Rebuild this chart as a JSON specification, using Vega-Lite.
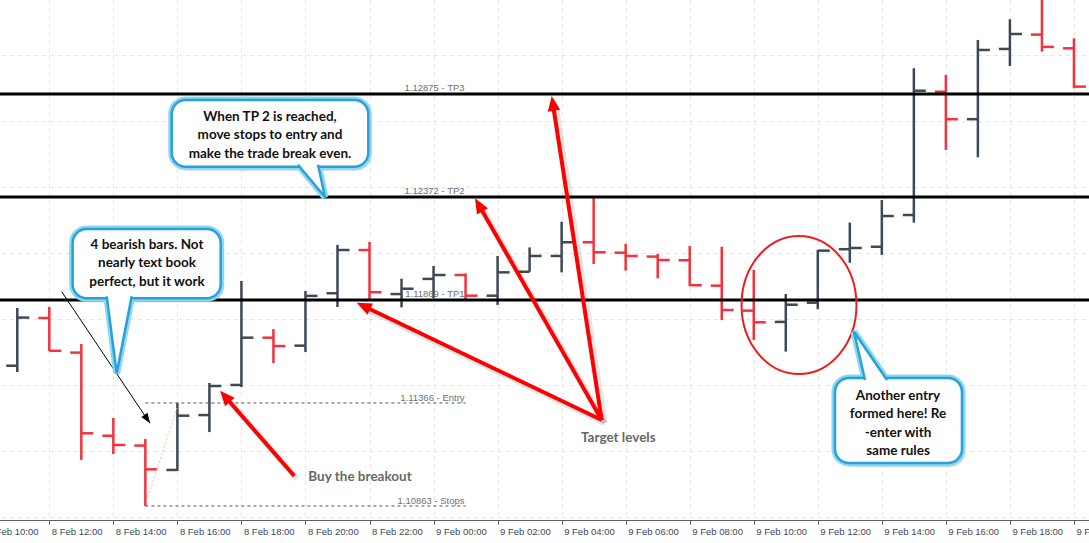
{
  "$schema": "https://vega.github.io/schema/vega-lite/v6.json",
  "width": 1089,
  "height": 520,
  "autosize": "none",
  "padding": {"left": 0, "top": 0, "right": 0, "bottom": 23},
  "background": "white",
  "config": {"view": {"stroke": null}},
  "datasets": {
    "bars": [
      {"t": "2016-02-08T11:00:00Z", "o": 1.11548, "h": 1.11830, "l": 1.11517, "c": 1.11783},
      {"t": "2016-02-08T12:00:00Z", "o": 1.11781, "h": 1.11835, "l": 1.11620, "c": 1.11621},
      {"t": "2016-02-08T13:00:00Z", "o": 1.11612, "h": 1.11654, "l": 1.11088, "c": 1.11218},
      {"t": "2016-02-08T14:00:00Z", "o": 1.11206, "h": 1.11293, "l": 1.11117, "c": 1.11161},
      {"t": "2016-02-08T15:00:00Z", "o": 1.11158, "h": 1.11190, "l": 1.10863, "c": 1.11042},
      {"t": "2016-02-08T16:00:00Z", "o": 1.11039, "h": 1.11366, "l": 1.11034, "c": 1.11304},
      {"t": "2016-02-08T17:00:00Z", "o": 1.11307, "h": 1.11464, "l": 1.11224, "c": 1.11449},
      {"t": "2016-02-08T18:00:00Z", "o": 1.11454, "h": 1.11962, "l": 1.11444, "c": 1.11685},
      {"t": "2016-02-08T19:00:00Z", "o": 1.11685, "h": 1.11727, "l": 1.11561, "c": 1.11644},
      {"t": "2016-02-08T20:00:00Z", "o": 1.11646, "h": 1.11913, "l": 1.11615, "c": 1.11889},
      {"t": "2016-02-08T21:00:00Z", "o": 1.11902, "h": 1.12138, "l": 1.11835, "c": 1.12113},
      {"t": "2016-02-08T22:00:00Z", "o": 1.12113, "h": 1.12152, "l": 1.11869, "c": 1.11907},
      {"t": "2016-02-08T23:00:00Z", "o": 1.11898, "h": 1.11973, "l": 1.11833, "c": 1.11924},
      {"t": "2016-02-09T00:00:00Z", "o": 1.11972, "h": 1.12035, "l": 1.11877, "c": 1.11991},
      {"t": "2016-02-09T01:00:00Z", "o": 1.11991, "h": 1.11999, "l": 1.11869, "c": 1.11890},
      {"t": "2016-02-09T02:00:00Z", "o": 1.11890, "h": 1.12084, "l": 1.11845, "c": 1.12004},
      {"t": "2016-02-09T03:00:00Z", "o": 1.12007, "h": 1.12126, "l": 1.12007, "c": 1.12084},
      {"t": "2016-02-09T04:00:00Z", "o": 1.12084, "h": 1.12251, "l": 1.12004, "c": 1.12151},
      {"t": "2016-02-09T05:00:00Z", "o": 1.12151, "h": 1.12371, "l": 1.12045, "c": 1.12102},
      {"t": "2016-02-09T06:00:00Z", "o": 1.12100, "h": 1.12143, "l": 1.12012, "c": 1.12084},
      {"t": "2016-02-09T07:00:00Z", "o": 1.12081, "h": 1.12094, "l": 1.11975, "c": 1.12064},
      {"t": "2016-02-09T08:00:00Z", "o": 1.12063, "h": 1.12133, "l": 1.11937, "c": 1.11941},
      {"t": "2016-02-09T09:00:00Z", "o": 1.11939, "h": 1.12129, "l": 1.11771, "c": 1.11820},
      {"t": "2016-02-09T10:00:00Z", "o": 1.11817, "h": 1.12016, "l": 1.11674, "c": 1.11760},
      {"t": "2016-02-09T11:00:00Z", "o": 1.11762, "h": 1.11898, "l": 1.11617, "c": 1.11846},
      {"t": "2016-02-09T12:00:00Z", "o": 1.11856, "h": 1.12113, "l": 1.11824, "c": 1.12110},
      {"t": "2016-02-09T13:00:00Z", "o": 1.12117, "h": 1.12247, "l": 1.12051, "c": 1.12123},
      {"t": "2016-02-09T14:00:00Z", "o": 1.12129, "h": 1.12357, "l": 1.12089, "c": 1.12279},
      {"t": "2016-02-09T15:00:00Z", "o": 1.12284, "h": 1.13001, "l": 1.12247, "c": 1.12891},
      {"t": "2016-02-09T16:00:00Z", "o": 1.12886, "h": 1.12968, "l": 1.12602, "c": 1.12752},
      {"t": "2016-02-09T17:00:00Z", "o": 1.12752, "h": 1.13139, "l": 1.12566, "c": 1.13090},
      {"t": "2016-02-09T18:00:00Z", "o": 1.13095, "h": 1.13240, "l": 1.13012, "c": 1.13168},
      {"t": "2016-02-09T19:00:00Z", "o": 1.13165, "h": 1.13360, "l": 1.13082, "c": 1.13105},
      {"t": "2016-02-09T20:00:00Z", "o": 1.13098, "h": 1.13147, "l": 1.12903, "c": 1.12911}
    ],
    "levels": [
      {"t": "2016-02-09T01:00:00Z", "p": 1.12875, "label": "1.12875 - TP3"},
      {"t": "2016-02-09T01:00:00Z", "p": 1.12372, "label": "1.12372 - TP2"},
      {"t": "2016-02-09T01:00:00Z", "p": 1.11869, "label": "1.11869 - TP1"}
    ],
    "segs": [
      {"t": "2016-02-08T15:00:00Z", "t2": "2016-02-09T01:00:00Z", "p": 1.11366, "label": "1.11366 - Entry"},
      {"t": "2016-02-08T15:00:00Z", "t2": "2016-02-09T01:00:00Z", "p": 1.10863, "label": "1.10863 - Stops"}
    ],
    "arrows": [
      {"id": "tp3", "t": "2016-02-09T05:15:06Z", "p": 1.112830, "t2": "2016-02-09T03:43:36Z", "p2": 1.128267},
      {"id": "tp2", "t": "2016-02-09T05:15:06Z", "p": 1.112830, "t2": "2016-02-09T01:25:12Z", "p2": 1.123317},
      {"id": "tp1", "t": "2016-02-09T05:15:06Z", "p": 1.112830, "t2": "2016-02-08T21:49:30Z", "p2": 1.118387},
      {"id": "buy", "t": "2016-02-08T19:39:06Z", "p": 1.110095, "t2": "2016-02-08T17:29:42Z", "p2": 1.113966}
    ],
    "heads": [
      {"id": "tp3", "t": "2016-02-09T03:41:24Z", "p": 1.128652},
      {"id": "tp2", "t": "2016-02-09T01:17:42Z", "p": 1.123657},
      {"id": "tp1", "t": "2016-02-08T21:36:00Z", "p": 1.118558},
      {"id": "buy", "t": "2016-02-08T17:19:54Z", "p": 1.114261},
      {"id": "black", "t": "2016-02-08T15:08:42Z", "p": 1.112669}
    ],
    "boxes": [
      {"id": "A", "t": "2016-02-08T15:49:24Z", "t2": "2016-02-08T21:57:42Z", "p": 1.128457, "p2": 1.125200},
      {"id": "B", "t": "2016-02-08T12:43:48Z", "t2": "2016-02-08T17:21:12Z", "p": 1.122157, "p2": 1.118773},
      {"id": "C", "t": "2016-02-09T12:32:12Z", "t2": "2016-02-09T16:30:12Z", "p": 1.114881, "p2": 1.110730}
    ],
    "pointers": [
      {"id": "A", "o": 1, "t": "2016-02-08T19:46:00Z", "p": 1.125297},
      {"id": "A", "o": 2, "t": "2016-02-08T20:36:36Z", "p": 1.123720},
      {"id": "A", "o": 3, "t": "2016-02-08T20:23:30Z", "p": 1.125297},
      {"id": "B", "o": 1, "t": "2016-02-08T13:47:36Z", "p": 1.118871},
      {"id": "B", "o": 2, "t": "2016-02-08T14:06:18Z", "p": 1.115110},
      {"id": "B", "o": 3, "t": "2016-02-08T14:34:24Z", "p": 1.118871},
      {"id": "C", "o": 1, "t": "2016-02-09T13:28:30Z", "p": 1.114783},
      {"id": "C", "o": 2, "t": "2016-02-09T13:07:48Z", "p": 1.117142},
      {"id": "C", "o": 3, "t": "2016-02-09T14:09:42Z", "p": 1.114783}
    ],
    "callouts": [
      {"t": "2016-02-08T18:53:30Z", "p": 1.127627, "text": "When TP 2 is reached,\nmove stops to entry and\nmake the trade break even."},
      {"t": "2016-02-08T15:03:06Z", "p": 1.121376, "text": "4 bearish bars. Not\nnearly text book\nperfect, but it work"},
      {"t": "2016-02-09T14:30:18Z", "p": 1.114002, "text": "Another entry\nformed here! Re\n-enter with\nsame rules"}
    ],
    "notes": [
      {"t": "2016-02-09T05:46:12Z", "p": 1.111936, "text": "Target levels"},
      {"t": "2016-02-08T21:42:12Z", "p": 1.110032, "text": "Buy the breakout"}
    ]
  },
  "layer": [
    {
      "data": {"name": "bars"},
      "mark": {"type": "rule", "strokeWidth": 2.5, "clip": true},
      "encoding": {
        "x": {
          "field": "t", "type": "temporal", "title": null,
          "scale": {"type": "utc", "domain": [1454923800000, 1455049692000], "range": [-30.75, 1089]},
          "axis": {
            "values": [1454925600000, 1454929200000, 1454932800000, 1454936400000, 1454940000000, 1454943600000, 1454947200000, 1454950800000, 1454954400000, 1454958000000, 1454961600000, 1454965200000, 1454968800000, 1454972400000, 1454976000000, 1454979600000, 1454983200000, 1454986800000, 1454990400000, 1454994000000, 1454997600000, 1455001200000, 1455004800000, 1455008400000, 1455012000000, 1455015600000, 1455019200000, 1455022800000, 1455026400000, 1455030000000, 1455033600000, 1455037200000, 1455040800000, 1455044400000, 1455048000000],
            "labelExpr": "utchours(datum.value) % 2 == 0 ? utcFormat(datum.value, '%-d %b %H:%M') : ''",
            "grid": true,
            "gridDash": [4, 4],
            "gridColor": "#e4e4e4",
            "gridWidth": 1,
            "labelAlign": "left",
            "labelOffset": 2,
            "labelOverlap": false,
            "labelBound": false,
            "labelFlush": false,
            "labelFont": "Liberation Sans",
            "labelFontSize": 9.5,
            "labelColor": "#3d4858",
            "labelPadding": 2,
            "domainColor": "#56606e",
            "domainWidth": 1,
            "tickSize": 4,
            "tickColor": {"condition": {"test": "utchours(datum.value) % 2 == 0", "value": "#56606e"}, "value": "transparent"}
          }
        },
        "y": {
          "field": "l", "type": "quantitative", "title": null,
          "scale": {"domain": [1.107946, 1.13334], "zero": false, "nice": false},
          "axis": {
            "values": [1.132266, 1.130654, 1.129043, 1.127431, 1.12582, 1.124208, 1.122596, 1.120985, 1.119373, 1.117762, 1.11615, 1.114538, 1.112927, 1.111315, 1.109704, 1.108092],
            "grid": true,
            "gridDash": [4, 4],
            "gridColor": "#e4e4e4",
            "labels": false,
            "ticks": false,
            "domain": false
          }
        },
        "y2": {"field": "h"},
        "color": {"condition": {"test": "datum.c < datum.o", "value": "#f2323f"}, "value": "#3d4858"}
      }
    },
    {
      "data": {"name": "bars"},
      "mark": {"type": "tick", "orient": "horizontal", "size": 11, "thickness": 2.5, "xOffset": -5.5, "opacity": 1},
      "encoding": {
        "x": {"field": "t", "type": "temporal", "scale": {"type": "utc"}},
        "y": {"field": "o", "type": "quantitative"},
        "color": {"condition": {"test": "datum.c < datum.o", "value": "#f2323f"}, "value": "#3d4858"}
      }
    },
    {
      "data": {"name": "bars"},
      "mark": {"type": "tick", "orient": "horizontal", "size": 12, "thickness": 2.5, "xOffset": 6, "opacity": 1},
      "encoding": {
        "x": {"field": "t", "type": "temporal", "scale": {"type": "utc"}},
        "y": {"field": "c", "type": "quantitative"},
        "color": {"condition": {"test": "datum.c < datum.o", "value": "#f2323f"}, "value": "#3d4858"}
      }
    },
    {
      "data": {"name": "segs"},
      "mark": {"type": "rule", "strokeDash": [3, 3], "color": "#555555", "strokeWidth": 1},
      "encoding": {
        "x": {"field": "t", "type": "temporal", "scale": {"type": "utc"}},
        "x2": {"field": "t2"},
        "y": {"field": "p", "type": "quantitative"}
      }
    },
    {
      "data": {"values": [{"t": "2016-02-08T15:04:54Z", "p": 1.10907, "t2": "2016-02-08T15:59:18Z", "p2": 1.113416}]},
      "mark": {"type": "rule", "strokeDash": [2, 2], "color": "#f5c48e", "strokeWidth": 1},
      "encoding": {
        "x": {"field": "t", "type": "temporal", "scale": {"type": "utc"}},
        "x2": {"field": "t2"},
        "y": {"field": "p", "type": "quantitative"},
        "y2": {"field": "p2"}
      }
    },
    {
      "data": {"name": "levels"},
      "mark": {"type": "rule", "color": "#000000", "strokeWidth": 3},
      "encoding": {"y": {"field": "p", "type": "quantitative"}}
    },
    {
      "data": {"name": "segs"},
      "mark": {"type": "text", "align": "right", "baseline": "alphabetic", "dx": -1, "dy": -2, "font": "Liberation Sans", "fontSize": 9.5, "color": "#707070"},
      "encoding": {
        "x": {"field": "t2", "type": "temporal", "scale": {"type": "utc"}},
        "y": {"field": "p", "type": "quantitative"},
        "text": {"field": "label"}
      }
    },
    {
      "data": {"name": "levels"},
      "mark": {"type": "text", "align": "right", "baseline": "alphabetic", "dx": -1, "dy": -3, "font": "Liberation Sans", "fontSize": 9.5, "color": "#707070"},
      "encoding": {
        "x": {"field": "t", "type": "temporal", "scale": {"type": "utc"}},
        "y": {"field": "p", "type": "quantitative"},
        "text": {"field": "label"}
      }
    },
    {
      "data": {"values": [{"t": "2016-02-09T11:24:48Z", "p": 1.118446}]},
      "mark": {"type": "point", "shape": "M0,-1 C0.46,-1 0.833,-0.5523 0.833,0 C0.833,0.5523 0.46,1 0,1 C-0.46,1 -0.833,0.5523 -0.833,0 C-0.833,-0.5523 -0.46,-1 0,-1 Z", "filled": false, "size": 19044, "strokeWidth": 2, "color": "#ee1c1c", "opacity": 1},
      "encoding": {
        "x": {"field": "t", "type": "temporal", "scale": {"type": "utc"}},
        "y": {"field": "p", "type": "quantitative"}
      }
    },
    {
      "data": {"name": "arrows"},
      "mark": {"type": "rule", "strokeWidth": 6, "color": "#000000", "opacity": 0.1, "xOffset": 3, "x2Offset": 3, "yOffset": 3, "y2Offset": 3},
      "encoding": {
        "x": {"field": "t", "type": "temporal", "scale": {"type": "utc"}},
        "x2": {"field": "t2"},
        "y": {"field": "p", "type": "quantitative"},
        "y2": {"field": "p2"}
      }
    },
    {
      "data": {"name": "arrows"},
      "mark": {"type": "rule", "strokeWidth": 4, "color": "#ff0000"},
      "encoding": {
        "x": {"field": "t", "type": "temporal", "scale": {"type": "utc"}},
        "x2": {"field": "t2"},
        "y": {"field": "p", "type": "quantitative"},
        "y2": {"field": "p2"}
      }
    },
    {
      "data": {"name": "heads"},
      "transform": [{"filter": "datum.id == 'tp3'"}],
      "mark": {"type": "point", "shape": "M0,0 L0.42,1 L-0.42,1 Z", "size": 900, "filled": true, "color": "#ff0000", "opacity": 1, "angle": 351.2},
      "encoding": {"x": {"field": "t", "type": "temporal", "scale": {"type": "utc"}}, "y": {"field": "p", "type": "quantitative"}}
    },
    {
      "data": {"name": "heads"},
      "transform": [{"filter": "datum.id == 'tp2'"}],
      "mark": {"type": "point", "shape": "M0,0 L0.42,1 L-0.42,1 Z", "size": 900, "filled": true, "color": "#ff0000", "opacity": 1, "angle": 330.3},
      "encoding": {"x": {"field": "t", "type": "temporal", "scale": {"type": "utc"}}, "y": {"field": "p", "type": "quantitative"}}
    },
    {
      "data": {"name": "heads"},
      "transform": [{"filter": "datum.id == 'tp1'"}],
      "mark": {"type": "point", "shape": "M0,0 L0.42,1 L-0.42,1 Z", "size": 900, "filled": true, "color": "#ff0000", "opacity": 1, "angle": 295.6},
      "encoding": {"x": {"field": "t", "type": "temporal", "scale": {"type": "utc"}}, "y": {"field": "p", "type": "quantitative"}}
    },
    {
      "data": {"name": "heads"},
      "transform": [{"filter": "datum.id == 'buy'"}],
      "mark": {"type": "point", "shape": "M0,0 L0.42,1 L-0.42,1 Z", "size": 900, "filled": true, "color": "#ff0000", "opacity": 1, "angle": 319.0},
      "encoding": {"x": {"field": "t", "type": "temporal", "scale": {"type": "utc"}}, "y": {"field": "p", "type": "quantitative"}}
    },
    {
      "data": {"values": [{"t": "2016-02-08T12:23:12Z", "p": 1.119095, "t2": "2016-02-08T15:08:42Z", "p2": 1.112669}]},
      "mark": {"type": "rule", "strokeWidth": 1, "color": "#000000"},
      "encoding": {
        "x": {"field": "t", "type": "temporal", "scale": {"type": "utc"}},
        "x2": {"field": "t2"},
        "y": {"field": "p", "type": "quantitative"},
        "y2": {"field": "p2"}
      }
    },
    {
      "data": {"name": "heads"},
      "transform": [{"filter": "datum.id == 'black'"}],
      "mark": {"type": "point", "shape": "M0,0 L0.38,1 L-0.38,1 Z", "size": 400, "filled": true, "color": "#000000", "opacity": 1, "angle": 146.1},
      "encoding": {"x": {"field": "t", "type": "temporal", "scale": {"type": "utc"}}, "y": {"field": "p", "type": "quantitative"}}
    },
    {
      "data": {"name": "boxes"},
      "mark": {"type": "rect", "cornerRadius": 14, "color": "#000000", "opacity": 0.12, "xOffset": 3, "x2Offset": 3, "yOffset": 4, "y2Offset": 4},
      "encoding": {
        "x": {"field": "t", "type": "temporal", "scale": {"type": "utc"}},
        "x2": {"field": "t2"},
        "y": {"field": "p", "type": "quantitative"},
        "y2": {"field": "p2"}
      }
    },
    {
      "data": {"name": "boxes"},
      "mark": {"type": "rect", "cornerRadius": 14, "fill": "white", "stroke": "#8fd6f2", "strokeWidth": 7, "opacity": 1},
      "encoding": {
        "x": {"field": "t", "type": "temporal", "scale": {"type": "utc"}},
        "x2": {"field": "t2"},
        "y": {"field": "p", "type": "quantitative"},
        "y2": {"field": "p2"}
      }
    },
    {
      "data": {"name": "pointers"},
      "mark": {"type": "line", "stroke": "#8fd6f2", "strokeWidth": 7, "fill": "white"},
      "encoding": {
        "x": {"field": "t", "type": "temporal", "scale": {"type": "utc"}},
        "y": {"field": "p", "type": "quantitative"},
        "detail": {"field": "id"},
        "order": {"field": "o"}
      }
    },
    {
      "data": {"name": "boxes"},
      "mark": {"type": "rect", "cornerRadius": 14, "fill": "white", "stroke": "#27a2d8", "strokeWidth": 2.5, "opacity": 1},
      "encoding": {
        "x": {"field": "t", "type": "temporal", "scale": {"type": "utc"}},
        "x2": {"field": "t2"},
        "y": {"field": "p", "type": "quantitative"},
        "y2": {"field": "p2"}
      }
    },
    {
      "data": {"name": "pointers"},
      "mark": {"type": "line", "stroke": "#27a2d8", "strokeWidth": 2.5, "fill": "white"},
      "encoding": {
        "x": {"field": "t", "type": "temporal", "scale": {"type": "utc"}},
        "y": {"field": "p", "type": "quantitative"},
        "detail": {"field": "id"},
        "order": {"field": "o"}
      }
    },
    {
      "data": {"name": "callouts"},
      "mark": {"type": "text", "align": "center", "baseline": "middle", "lineBreak": "\n", "lineHeight": 18.5, "font": "Lato", "fontWeight": "bold", "fontSize": 13.5, "color": "#111111"},
      "encoding": {
        "x": {"field": "t", "type": "temporal", "scale": {"type": "utc"}},
        "y": {"field": "p", "type": "quantitative"},
        "text": {"field": "text"}
      }
    },
    {
      "data": {"name": "notes"},
      "mark": {"type": "text", "align": "center", "baseline": "middle", "font": "Lato", "fontWeight": "bold", "fontSize": 13.5, "color": "#686868"},
      "encoding": {
        "x": {"field": "t", "type": "temporal", "scale": {"type": "utc"}},
        "y": {"field": "p", "type": "quantitative"},
        "text": {"field": "text"}
      }
    }
  ]
}
